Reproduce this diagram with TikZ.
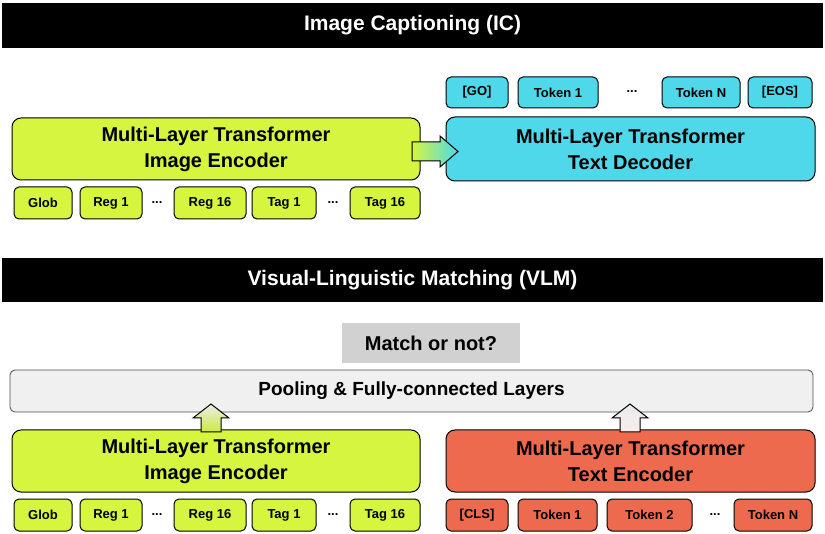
\documentclass[tikz,border=0pt]{standalone}
\usepackage{fontspec}
\setmainfont{Liberation Sans}
\begin{document}
\begin{tikzpicture}[x=1pt,y=-1pt,
  bar/.style={fill=black,text=white,font=\bfseries\fontsize{21}{24}\selectfont},
  big/.style={draw=black,line width=1pt,rounded corners=9pt,align=center,font=\bfseries\fontsize{20}{26}\selectfont},
  tok/.style={draw=black,line width=1pt,rounded corners=5pt,font=\bfseries\fontsize{13}{15}\selectfont},
  dots/.style={font=\bfseries\fontsize{13}{15}\selectfont},
  grn/.style={fill=lime1}, cyn/.style={fill=cyan1}, red/.style={fill=red1}]
\definecolor{lime1}{HTML}{D5F53E}
\definecolor{cyan1}{HTML}{4ED8EA}
\definecolor{red1}{HTML}{EE6A4F}
\useasboundingbox (0,0) rectangle (825,534);
\def\bx#1#2#3#4#5#6#7{\node[#1,minimum width=#4-#3,minimum height=#6-#5,inner sep=0pt] (#2) at ({(#3+#4)/2},{(#5+#6)/2}) {#7};}
% top
\bx{bar}{ic}{2}{823}{3}{48}{Image Captioning (IC)}
\bx{big,grn}{enc1}{12}{420}{118}{180}{Multi-Layer Transformer\\Image Encoder}
\bx{big,cyn}{dec}{446}{815}{117}{181}{Multi-Layer Transformer\\Text Decoder}
\bx{tok,grn}{a1}{14}{72}{187}{219}{Glob}
\bx{tok,grn}{a2}{80}{142}{187}{219}{Reg 1}
\node[dots] (ad1) at (157,203) {...};
\bx{tok,grn}{a3}{174}{246}{187}{219}{Reg 16}
\bx{tok,grn}{a4}{252}{316}{187}{219}{Tag 1}
\node[dots] (ad2) at (333,203) {...};
\bx{tok,grn}{a5}{350}{420}{187}{219}{Tag 16}
\bx{tok,cyn}{b1}{446}{508}{77}{108}{[GO]}
\bx{tok,cyn}{b2}{518}{598}{77}{108}{Token 1}
\node[dots] (bd) at (632,92) {...};
\bx{tok,cyn}{b3}{662}{740}{77}{108}{Token N}
\bx{tok,cyn}{b4}{748}{812}{77}{108}{[EOS]}
\shade[left color=lime1,right color=cyan1,draw=black,line width=1pt]
  (412,142) -- (440,142) -- (440,136) -- (458,151.5) -- (440,167) -- (440,161) -- (412,161) -- cycle;
% bottom
\bx{bar}{vlm}{2}{823}{258}{302}{Visual-Linguistic Matching (VLM)}
\node[fill=black!18,minimum width=178,minimum height=40,inner sep=0pt,font=\bfseries\fontsize{20}{24}\selectfont] (m) at (431,343) {Match or not?};
\node[draw=black!70,line width=0.8pt,fill=black!6,rounded corners=5pt,minimum width=803,minimum height=42,inner sep=0pt,font=\bfseries\fontsize{19}{22}\selectfont] (pool) at (411.5,391) {Pooling \& Fully-connected Layers};
\bx{big,grn}{enc2}{12}{420}{430}{492}{Multi-Layer Transformer\\Image Encoder}
\bx{big,red}{tenc}{446}{815}{430}{492}{Multi-Layer Transformer\\Text Encoder}
\bx{tok,grn}{c1}{14}{72}{499}{531}{Glob}
\bx{tok,grn}{c2}{80}{142}{499}{531}{Reg 1}
\node[dots] (cd1) at (157,515) {...};
\bx{tok,grn}{c3}{174}{246}{499}{531}{Reg 16}
\bx{tok,grn}{c4}{252}{316}{499}{531}{Tag 1}
\node[dots] (cd2) at (333,515) {...};
\bx{tok,grn}{c5}{350}{420}{499}{531}{Tag 16}
\bx{tok,red}{d1}{446}{508}{499}{531}{[CLS]}
\bx{tok,red}{d2}{518}{597}{499}{531}{Token 1}
\bx{tok,red}{d3}{607}{692}{499}{531}{Token 2}
\node[dots] (dd) at (715,515) {...};
\bx{tok,red}{d4}{734}{812}{499}{531}{Token N}
\shade[top color=black!8,bottom color=lime1!80!black!20!lime1,draw=black,line width=1pt]
  (201,432) -- (201,418) -- (193,418) -- (211,404) -- (229,418) -- (221,418) -- (221,432) -- cycle;
\shade[top color=black!8,bottom color=red1!70!black!10,draw=black,line width=1pt]
  (620,432) -- (620,418) -- (612,418) -- (630,404) -- (648,418) -- (640,418) -- (640,432) -- cycle;
\end{tikzpicture}
\end{document}
